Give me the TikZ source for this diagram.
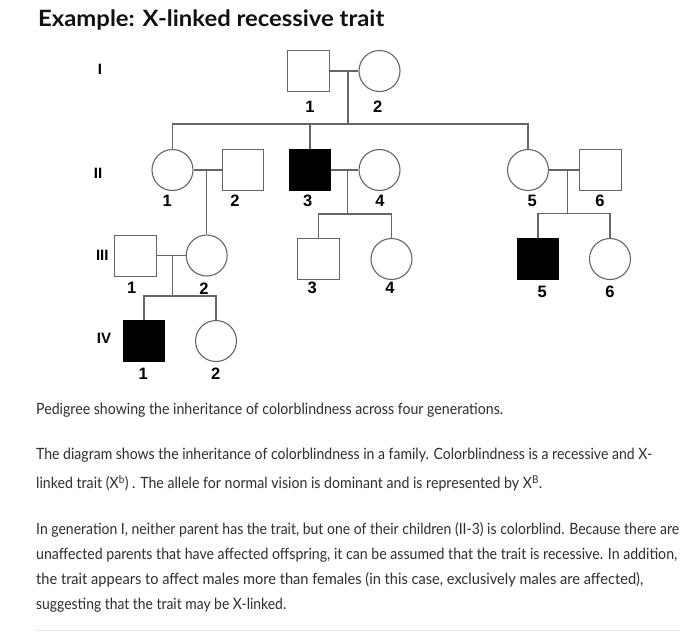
\documentclass[tikz,border=0pt]{standalone}
\usepackage{fontspec}
\usepackage{graphicx}
\setmainfont{Lato}
\newfontfamily\arialfont{Liberation Sans}
\definecolor{pedline}{HTML}{666666}
\definecolor{bodytext}{HTML}{2E2E2E}
\definecolor{titletext}{HTML}{111111}
\definecolor{rulegray}{HTML}{E6E6E6}
\begin{document}
\begin{tikzpicture}[x=1pt,y=-1pt,
  male/.style={rectangle,draw=pedline,line width=1.1pt,minimum size=41.5pt,inner sep=0pt},
  female/.style={circle,draw=pedline,line width=1.1pt,minimum size=41pt,inner sep=0pt},
  affected/.style={fill=black,draw=black},
  rel/.style={draw=pedline,line width=1.1pt},
  num/.style={font=\arialfont\bfseries\fontsize{16.5}{16.5}\selectfont,inner sep=0pt,text=black},
  gen/.style={font=\arialfont\bfseries\fontsize{15}{15}\selectfont,inner sep=0pt,text=black},
  bodyline/.style={anchor=base west,inner sep=0pt,text=bodytext,font=\fontsize{15.5}{15.5}\selectfont},
  titlestyle/.style={anchor=base west,inner sep=0pt,text=titletext,font=\bfseries\fontsize{22.5}{22.5}\selectfont}]
\useasboundingbox[fill=white] (0,0) rectangle (700,638);

% title
\node[titlestyle] (title) at (38,26) {\resizebox{346pt}{\height}{Example: X-linked recessive trait}};

% generation labels
\node[gen] (gI) at (100,69) {I};
\node[gen] (gII) at (98,173) {II};
\node[gen] (gIII) at (102.3,255) {III};
\node[gen] (gIV) at (104,338.5) {IV};

% generation I
\node[male] (I1) at (308.5,71) {};
\node[female] (I2) at (379.5,71) {};
% generation II
\node[female] (II1) at (172.5,170) {};
\node[male] (II2) at (243,170) {};
\node[male,affected] (II3) at (310,170) {};
\node[female] (II4) at (379.5,170) {};
\node[female] (II5) at (528,170) {};
\node[male] (II6) at (600.5,170) {};
% generation III
\node[male] (III1) at (135.5,256) {};
\node[female] (III2) at (206.7,255.5) {};
\node[male] (III3) at (318.5,259) {};
\node[female] (III4) at (391.5,259) {};
\node[male,affected] (III5) at (538,259) {};
\node[female] (III6) at (610,259) {};
% generation IV
\node[male,affected] (IV1) at (144,341) {};
\node[female] (IV2) at (216,341) {};

% junction coordinates
\coordinate (mI) at (348,71);
\coordinate (sI) at (348,124);
\coordinate (mA) at (206.7,170);
\coordinate (mB) at (347.7,170);
\coordinate (sB) at (347.7,214);
\coordinate (mC) at (567.3,170);
\coordinate (sC) at (567.3,213.5);
\coordinate (mD) at (172.3,255.5);
\coordinate (sD) at (172.3,296);

% connectors generation I
\draw[rel] (I1.east) -- (I2.west);
\draw[rel] (mI) -- (sI);
\draw[rel] (II1.north) -- (II1.north |- sI) -- (II5.north |- sI) -- (II5.north);
\draw[rel] (II3.north) -- (II3.north |- sI);
% II-1 x II-2
\draw[rel] (II1.east) -- (II2.west);
\draw[rel] (mA) -- (III2.north);
% II-3 x II-4
\draw[rel] (II3.east) -- (II4.west);
\draw[rel] (mB) -- (sB);
\draw[rel] (III3.north) -- (III3.north |- sB) -- (III4.north |- sB) -- (III4.north);
% II-5 x II-6
\draw[rel] (II5.east) -- (II6.west);
\draw[rel] (mC) -- (sC);
\draw[rel] (III5.north) -- (III5.north |- sC) -- (III6.north |- sC) -- (III6.north);
% III-1 x III-2
\draw[rel] (III1.east |- mD) -- (III2.west);
\draw[rel] (mD) -- (sD);
\draw[rel] (IV1.north) -- (IV1.north |- sD) -- (IV2.north |- sD) -- (IV2.north);

% individual numbers
\node[num] (nI1) at (310,107) {1};
\node[num] (nI2) at (377.7,107) {2};
\node[num] (nII1) at (167.3,201) {1};
\node[num] (nII2) at (235,201) {2};
\node[num] (nII3) at (307.7,201) {3};
\node[num] (nII4) at (380,201) {4};
\node[num] (nII5) at (532.3,201) {5};
\node[num] (nII6) at (600,201) {6};
\node[num] (nIII1) at (131.7,288.3) {1};
\node[num] (nIII2) at (204,288.3) {2};
\node[num] (nIII3) at (312.3,288.3) {3};
\node[num] (nIII4) at (390,288.3) {4};
\node[num] (nIII5) at (542.3,291.7) {5};
\node[num] (nIII6) at (610,291.7) {6};
\node[num] (nIV1) at (143.3,374) {1};
\node[num] (nIV2) at (215.7,374) {2};

% body text
\node[bodyline] (t1) at (36,414.5) {\resizebox{467pt}{\height}{Pedigree showing the inheritance of colorblindness across four generations.}};
\node[bodyline] (t2) at (36,459.5) {\resizebox{616pt}{\height}{The diagram shows the inheritance of colorblindness in a family. Colorblindness is a recessive and X-}};
\node[bodyline] (t3) at (36,488.5) {\resizebox{506pt}{\height}{linked trait (X\textsuperscript{b}) . The allele for normal vision is dominant and is represented by X\textsuperscript{B}.}};
\node[bodyline] (t4) at (36,534.5) {\resizebox{643pt}{\height}{In generation I, neither parent has the trait, but one of their children (II-3) is colorblind. Because there are}};
\node[bodyline] (t5) at (36,559) {\resizebox{641pt}{\height}{unaffected parents that have affected offspring, it can be assumed that the trait is recessive. In addition,}};
\node[bodyline] (t6) at (36,584) {\resizebox{607pt}{\height}{the trait appears to affect males more than females (in this case, exclusively males are affected),}};
\node[bodyline] (t7) at (36,609) {\resizebox{250pt}{\height}{suggesting that the trait may be X-linked.}};

% bottom rule
\coordinate (ruleL) at (36,630.5);
\coordinate (ruleR) at (680,630.5);
\draw[rulegray,line width=1pt] (ruleL) -- (ruleR);
\end{tikzpicture}
\end{document}
